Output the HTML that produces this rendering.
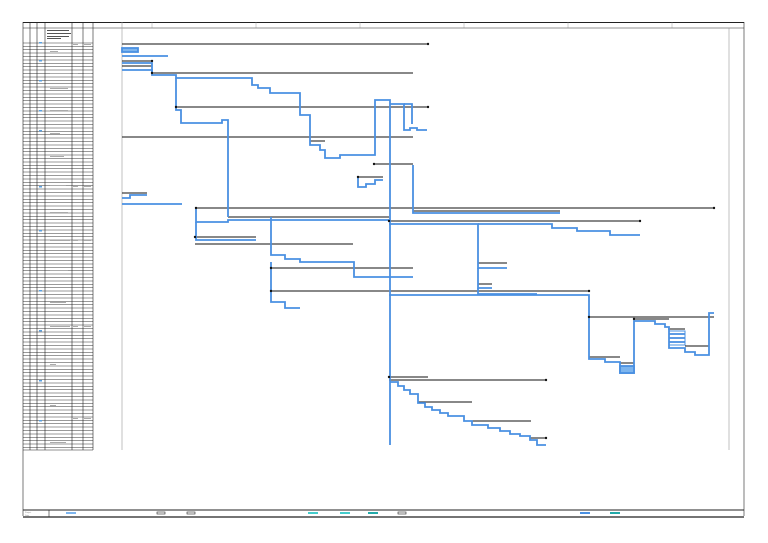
<!DOCTYPE html>
<html><head><meta charset="utf-8"><style>
html,body{margin:0;padding:0;background:#fff;width:768px;height:543px;overflow:hidden}
svg{position:absolute;left:0;top:0}
.tbl{position:absolute;left:23px;top:40px;width:70px;height:410px;background:repeating-linear-gradient(to bottom,#fff 0,#fff 2.4px,#999 2.4px,#999 3.4px)}
</style></head><body>
<div class="tbl"></div>
<svg width="768" height="543" viewBox="0 0 768 543" font-family="Liberation Sans, sans-serif">
<g stroke="#222" stroke-width="0.6" fill="none">
<line x1="23" y1="22.5" x2="744" y2="22.5" stroke-width="1"/>
<line x1="23" y1="28" x2="744" y2="28"/>
<line x1="23" y1="22" x2="23" y2="516"/>
<line x1="744" y1="22" x2="744" y2="516"/>
<line x1="23" y1="450" x2="93" y2="450"/>
<line x1="30" y1="22" x2="30" y2="450"/><line x1="37" y1="22" x2="37" y2="450"/>
<line x1="45" y1="22" x2="45" y2="450"/><line x1="72" y1="22" x2="72" y2="450"/>
<line x1="83" y1="22" x2="83" y2="450"/><line x1="93" y1="22" x2="93" y2="450"/>
<line x1="122" y1="22" x2="122" y2="450" stroke="#999"/>
<line x1="729" y1="28" x2="729" y2="450" stroke="#999"/>
<line x1="23" y1="510" x2="744" y2="510" stroke-width="1"/>
<line x1="23" y1="517" x2="744" y2="517" stroke-width="1.2"/>
<line x1="49" y1="510" x2="49" y2="517"/>
</g>
<g stroke="#888" stroke-width="0.4">
<line x1="152" y1="22" x2="152" y2="28"/><line x1="256" y1="22" x2="256" y2="28"/><line x1="360" y1="22" x2="360" y2="28"/><line x1="464" y1="22" x2="464" y2="28"/><line x1="568" y1="22" x2="568" y2="28"/><line x1="672" y1="22" x2="672" y2="28"/>
</g>
<g fill="#555"><rect x="47" y="30" width="22" height="1"/><rect x="47" y="33" width="24" height="1"/><rect x="47" y="36" width="22" height="1"/><rect x="47" y="38" width="14" height="1"/></g>
<g fill="#aaa"><rect x="50" y="51" width="8" height="1"/><rect x="50" y="73" width="20" height="1"/><rect x="50" y="88" width="18" height="1"/><rect x="50" y="110" width="18" height="1"/><rect x="50" y="133" width="10" height="1"/><rect x="50" y="156" width="14" height="1"/><rect x="50" y="185" width="16" height="1"/><rect x="50" y="212" width="18" height="1"/><rect x="50" y="240" width="20" height="1"/><rect x="50" y="270" width="18" height="1"/><rect x="50" y="302" width="16" height="1"/><rect x="50" y="326" width="20" height="1"/><rect x="50" y="364" width="6" height="1"/><rect x="50" y="405" width="6" height="1"/><rect x="50" y="442" width="16" height="1"/>
<rect x="73" y="44" width="5" height="1"/><rect x="84" y="44" width="7" height="1"/><rect x="73" y="73" width="5" height="1"/><rect x="84" y="73" width="7" height="1"/><rect x="73" y="186" width="5" height="1"/><rect x="84" y="186" width="7" height="1"/><rect x="73" y="240" width="5" height="1"/><rect x="84" y="240" width="7" height="1"/><rect x="73" y="326" width="5" height="1"/><rect x="84" y="326" width="7" height="1"/><rect x="73" y="418" width="5" height="1"/><rect x="84" y="418" width="7" height="1"/></g>
<g fill="#5aa0e0"><rect x="39" y="42" width="3" height="1.5"/><rect x="39" y="60" width="3" height="1.5"/><rect x="39" y="80" width="3" height="1.5"/><rect x="39" y="110" width="3" height="1.5"/><rect x="39" y="130" width="3" height="1.5"/><rect x="39" y="186" width="3" height="1.5"/><rect x="39" y="230" width="3" height="1.5"/><rect x="39" y="290" width="3" height="1.5"/><rect x="39" y="330" width="3" height="1.5"/><rect x="39" y="380" width="3" height="1.5"/><rect x="39" y="420" width="3" height="1.5"/></g>
<g stroke="#111" stroke-width="1">
<line x1="122" y1="44" x2="428" y2="44"/><line x1="122" y1="61" x2="152" y2="61"/><line x1="122" y1="66" x2="152" y2="66"/>
<line x1="152" y1="73" x2="413" y2="73"/><line x1="176" y1="107" x2="428" y2="107"/><line x1="122" y1="137" x2="413" y2="137"/>
<line x1="310" y1="141" x2="325" y2="141"/><line x1="374" y1="164" x2="413" y2="164"/><line x1="358" y1="177" x2="383" y2="177"/>
<line x1="122" y1="193" x2="147" y2="193"/>
<line x1="196" y1="208" x2="714" y2="208"/><line x1="413" y1="211" x2="560" y2="211"/><line x1="228" y1="217" x2="389" y2="217"/><line x1="389" y1="221" x2="640" y2="221"/>
<line x1="195" y1="237" x2="256" y2="237"/><line x1="195" y1="244" x2="353" y2="244"/><line x1="271" y1="268" x2="413" y2="268"/>
<line x1="478" y1="263" x2="507" y2="263"/><line x1="478" y1="284" x2="492" y2="284"/>
<line x1="271" y1="291" x2="589" y2="291"/><line x1="589" y1="317" x2="714" y2="317"/><line x1="634" y1="319" x2="669" y2="319"/>
<line x1="668" y1="329" x2="685" y2="329"/><line x1="589" y1="357" x2="620" y2="357"/><line x1="620" y1="363" x2="634" y2="363"/>
<line x1="389" y1="377" x2="428" y2="377"/><line x1="389" y1="380" x2="546" y2="380"/><line x1="418" y1="402" x2="472" y2="402"/>
<line x1="464" y1="421" x2="531" y2="421"/><line x1="530" y1="438" x2="546" y2="438"/><line x1="685" y1="346" x2="709" y2="346"/>
</g>
<g stroke="#4a90e2" stroke-width="1.8" fill="none">
<rect x="122" y="48" width="16" height="4" fill="#7db5ee"/>
<line x1="122" y1="56" x2="168" y2="56"/>
<polyline points="122,63 152,63 152,73"/>
<polyline points="122,70 152,70 152,75 176,75 176,78 252,78 252,85 258,85 258,88 270,88 270,93 300,93 300,115 310,115 310,145 320,145 320,150 325,150 325,158 340,158 340,155 375,155 375,100 390,100 390,445"/>
<polyline points="176,78 176,110 181,110 181,123 222,123 222,120 228,120 228,217"/>
<polyline points="390,104 404,104 404,130 410,130 410,128 417,128 417,130 427,130"/>
<polyline points="404,104 412,104 412,124"/>
<polyline points="358,178 358,187 366,187 366,184 375,184 375,180 383,180"/>
<polyline points="122,198 130,198 130,195 147,195"/>
<line x1="122" y1="204" x2="182" y2="204"/>
<polyline points="413,165 413,213 560,213"/>
<polyline points="196,208 196,222 228,222 228,220 389,220"/>
<polyline points="196,222 196,240 256,240"/>
<polyline points="271,217 271,255 285,255 285,259 300,259 300,262 354,262 354,277 413,277"/>
<polyline points="271,262 271,302 285,302 285,308 300,308"/>
<polyline points="389,224 478,224 478,268 507,268"/>
<polyline points="478,268 478,288 492,288"/>
<polyline points="478,224 552,224 552,228 577,228 577,231 610,231 610,235 640,235"/>
<polyline points="478,288 478,294 537,294"/>
<polyline points="389,295 589,295 589,359 605,359 605,362 620,362 620,373 634,373 634,321 655,321 655,324 665,324 665,327 669,327 669,348 685,348 685,352 695,352 695,355 709,355 709,313 714,313"/>
<polyline points="390,382 398,382 398,386 404,386 404,390 410,390 410,394 418,394 418,403 425,403 425,407 432,407 432,410 440,410 440,413 448,413 448,416 464,416 464,421 472,421 472,425 488,425 488,428 500,428 500,431 510,431 510,434 520,434 520,436 530,436 530,440 537,440 537,445 546,445"/>
<rect x="620" y="366" width="14" height="7" fill="#7db5ee"/>
<rect x="669" y="331" width="16" height="14" fill="none" stroke-width="1"/>
<line x1="669" y1="334" x2="685" y2="334"/><line x1="669" y1="338" x2="685" y2="338"/><line x1="669" y1="342" x2="685" y2="342"/>
</g>
<g fill="#111">
<circle cx="428" cy="44" r="1.2"/><circle cx="152" cy="61" r="1.2"/><circle cx="152" cy="73" r="1.2"/><circle cx="176" cy="107" r="1.2"/><circle cx="428" cy="107" r="1.2"/><circle cx="196" cy="208" r="1.2"/><circle cx="714" cy="208" r="1.2"/><circle cx="389" cy="221" r="1.2"/><circle cx="640" cy="221" r="1.2"/><circle cx="195" cy="237" r="1.2"/><circle cx="271" cy="268" r="1.2"/><circle cx="271" cy="291" r="1.2"/><circle cx="589" cy="291" r="1.2"/><circle cx="589" cy="317" r="1.2"/><circle cx="634" cy="319" r="1.2"/><circle cx="389" cy="377" r="1.2"/><circle cx="546" cy="380" r="1.2"/><circle cx="546" cy="438" r="1.2"/><circle cx="374" cy="164" r="1.2"/><circle cx="358" cy="177" r="1.2"/>
</g>
<g fill="#7db5ee"><rect x="66" y="512" width="10" height="2"/><rect x="308" y="512" width="10" height="2" fill="#4cc"/><rect x="340" y="512" width="10" height="2" fill="#4cc"/><rect x="368" y="512" width="10" height="2" fill="#2aa"/><rect x="580" y="512" width="10" height="2" fill="#4a90e2"/><rect x="610" y="512" width="10" height="2" fill="#2aa"/></g>
<g stroke="#222" stroke-width="0.6" fill="none"><rect x="157" y="512" width="8" height="2"/><rect x="187" y="512" width="8" height="2"/><rect x="398" y="512" width="8" height="2"/></g>
<g fill="#888" font-size="2"><text x="25" y="513">Project</text><text x="25" y="516">Date</text></g>
</svg>
</body></html>
